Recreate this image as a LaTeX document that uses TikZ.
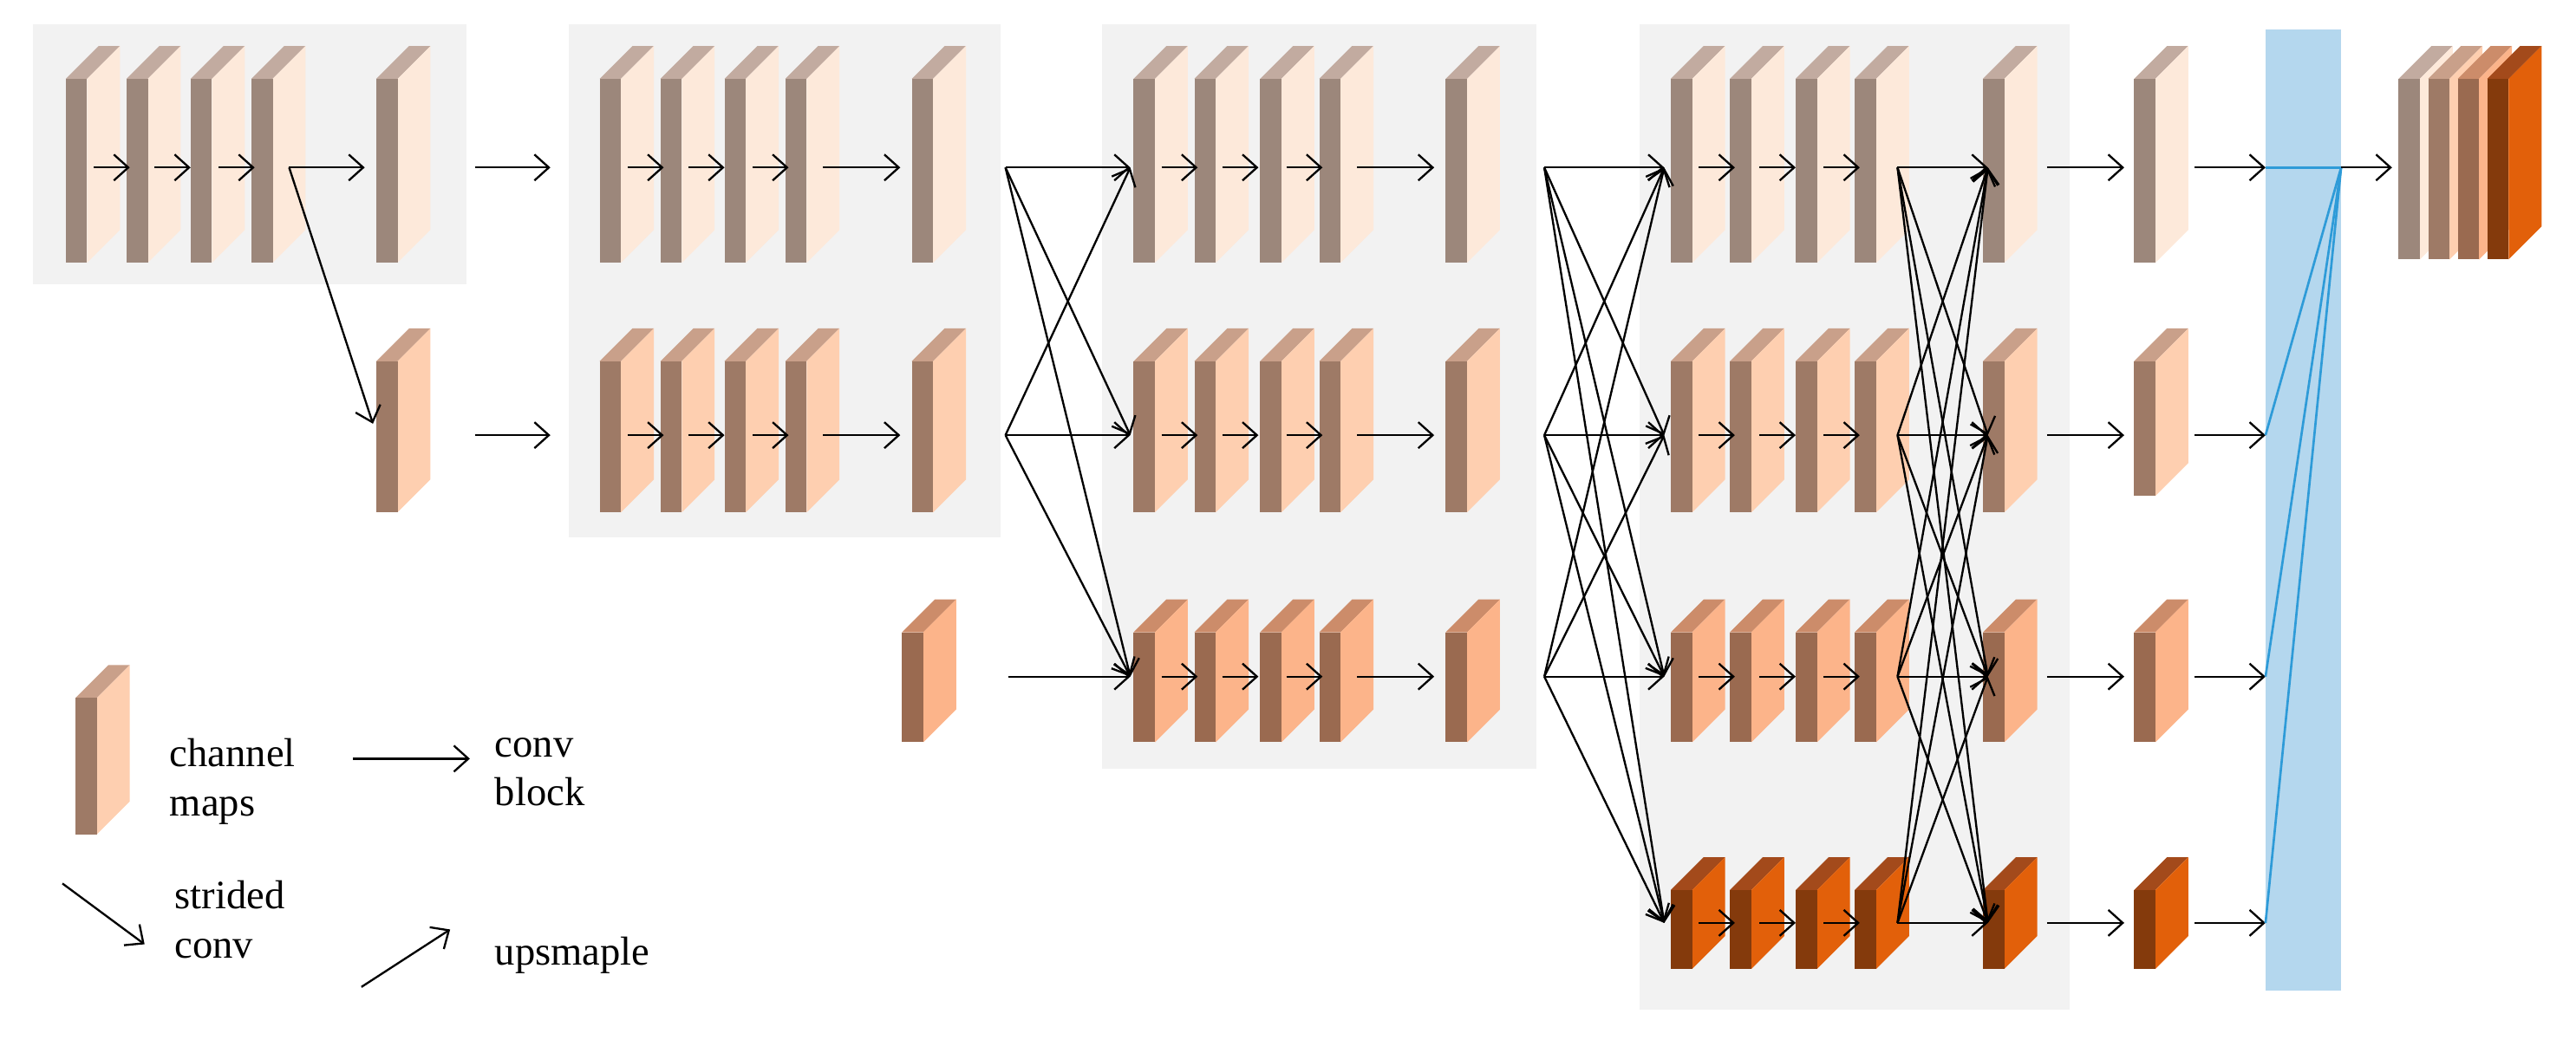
\documentclass[tikz,border=0pt]{standalone}
\usepackage{fontspec}
\setmainfont{Liberation Serif}
\usetikzlibrary{arrows.meta}
\definecolor{As}{HTML}{9C877B}\definecolor{Af}{HTML}{FDE9DA}\definecolor{At}{HTML}{C2ABA0}
\definecolor{Bs}{HTML}{9E7A66}\definecolor{Bf}{HTML}{FECFB0}\definecolor{Bt}{HTML}{C9A08A}
\definecolor{Cs}{HTML}{9A6A50}\definecolor{Cf}{HTML}{FCB48A}\definecolor{Ct}{HTML}{CC8C6A}
\definecolor{Ds}{HTML}{843A0C}\definecolor{Df}{HTML}{E2600A}\definecolor{Dt}{HTML}{A34A1B}
\definecolor{pgray}{HTML}{F2F2F2}\definecolor{bbar}{HTML}{B4D7EE}\definecolor{bline}{HTML}{2E9BD8}
\newcommand\plate[4]{%
  \fill[#4t] (#1,#2) -- (#1+20,#2-20) -- (#1+33,#2-20) -- (#1+13,#2) -- cycle;
  \fill[#4f] (#1+13,#2) -- (#1+33,#2-20) -- (#1+33,#3-20) -- (#1+13,#3) -- cycle;
  \fill[#4s] (#1,#2) rectangle (#1+13,#3);}
\begin{document}
\begin{tikzpicture}[x=0.02cm,y=-0.02cm,
  arr/.style={-{Straight Barb[length=5pt,width=9pt]},line width=0.7pt},
  bl/.style={draw=bline,line width=0.8pt},
  panel/.style={fill=pgray},
  lbl/.style={font=\fontsize{14}{17}\selectfont,align=left,anchor=west,inner sep=0}]
\useasboundingbox (0,0) rectangle (1568,633);
% panels
\fill[panel] (20,15) rectangle (284,173);
\fill[panel] (346,15) rectangle (609,327);
\fill[panel] (671,15) rectangle (935,468);
\fill[panel] (998,15) rectangle (1260,615);
\fill[bbar] (1379,18) rectangle (1425,603);
% row geometry: ytop, ybot, arrow y
\def\rAt{48}\def\rAb{160}\def\rAy{102}
\def\rBt{220}\def\rBb{312}\def\rBy{265}
\def\rCt{385}\def\rCb{452}\def\rCy{412}
\def\rDt{542}\def\rDb{590}\def\rDy{562}
% plates
\foreach \x in {40,77,116,153,229} {\plate{\x}{\rAt}{\rAb}{A}}
\plate{229}{\rBt}{\rBb}{B}
\foreach \x in {365,402,441,478,555} {\plate{\x}{\rAt}{\rAb}{A}\plate{\x}{\rBt}{\rBb}{B}}
\plate{549}{\rCt}{\rCb}{C}
\foreach \x in {690,727,767,803,880} {\plate{\x}{\rAt}{\rAb}{A}\plate{\x}{\rBt}{\rBb}{B}\plate{\x}{\rCt}{\rCb}{C}}
\foreach \x in {1017,1053,1093,1129,1207} {\plate{\x}{\rAt}{\rAb}{A}\plate{\x}{\rBt}{\rBb}{B}\plate{\x}{\rCt}{\rCb}{C}\plate{\x}{\rDt}{\rDb}{D}}
\plate{1299}{\rAt}{\rAb}{A}\plate{1299}{\rBt}{302}{B}\plate{1299}{\rCt}{\rCb}{C}\plate{1299}{\rDt}{\rDb}{D}
% final stack
\plate{1460}{\rAt}{158}{A}\plate{1478}{\rAt}{158}{B}\plate{1496}{\rAt}{158}{C}\plate{1514}{\rAt}{158}{D}
% in-block arrows
\foreach \px in {40,365,690,1017} {
  \foreach \d in {0,37,76} {
    \coordinate (s) at (\px+\d+17,\rAy); \coordinate (t) at (\px+\d+39,\rAy);
    \draw[arr] (s) -- (t);}}
\foreach \px in {365,690,1017} {
  \foreach \d in {0,37,76} {
    \coordinate (s) at (\px+\d+17,\rBy); \coordinate (t) at (\px+\d+39,\rBy);
    \draw[arr] (s) -- (t);}}
\foreach \px in {690,1017} {
  \foreach \d in {0,37,76} {
    \coordinate (s) at (\px+\d+17,\rCy); \coordinate (t) at (\px+\d+39,\rCy);
    \draw[arr] (s) -- (t);}}
\foreach \d in {0,37,76} {
  \coordinate (s) at (1017+\d+17,\rDy); \coordinate (t) at (1017+\d+39,\rDy);
  \draw[arr] (s) -- (t);}
% panel1 exits
\coordinate (p1s) at (176,\rAy); \coordinate (p1t) at (222,\rAy); \coordinate (p1d) at (227,258);
\draw[arr] (p1s) -- (p1t); \draw[arr] (p1s) -- (p1d);
\coordinate (a1) at (289,\rAy); \coordinate (a2) at (335,\rAy); \draw[arr] (a1) -- (a2);
\coordinate (b1) at (289,\rBy); \coordinate (b2) at (335,\rBy); \draw[arr] (b1) -- (b2);
% panel2 inner exits
\foreach \y in {\rAy,\rBy} {\coordinate (s) at (501,\y); \coordinate (t) at (548,\y); \draw[arr] (s) -- (t);}
% panel3 inner exits
\foreach \y in {\rAy,\rBy,\rCy} {\coordinate (s) at (826,\y); \coordinate (t) at (873,\y); \draw[arr] (s) -- (t);}
% exchange 2->3
\coordinate (u1) at (612,\rAy); \coordinate (u2) at (612,\rBy);
\coordinate (v1) at (688,\rAy); \coordinate (v2) at (688,\rBy); \coordinate (v3) at (688,\rCy);
\foreach \s in {u1,u2} \foreach \t in {v1,v2,v3} \draw[arr] (\s) -- (\t);
\coordinate (l3) at (614,\rCy); \draw[arr] (l3) -- (v3);
% exchange 3->4
\coordinate (w1) at (940,\rAy); \coordinate (w2) at (940,\rBy); \coordinate (w3) at (940,\rCy);
\coordinate (z1) at (1013,\rAy); \coordinate (z2) at (1013,\rBy); \coordinate (z3) at (1013,\rCy); \coordinate (z4) at (1013,\rDy);
\foreach \s in {w1,w2,w3} \foreach \t in {z1,z2,z3,z4} \draw[arr] (\s) -- (\t);
% exchange inside 4
\coordinate (q1) at (1155,\rAy); \coordinate (q2) at (1155,\rBy); \coordinate (q3) at (1155,\rCy); \coordinate (q4) at (1155,\rDy);
\coordinate (r1) at (1210,\rAy); \coordinate (r2) at (1210,\rBy); \coordinate (r3) at (1210,\rCy); \coordinate (r4) at (1210,\rDy);
\foreach \s in {q1,q2,q3,q4} \foreach \t in {r1,r2,r3,r4} \draw[arr] (\s) -- (\t);
% outputs
\foreach \y [count=\i] in {\rAy,\rBy,\rCy,\rDy} {
  \coordinate (o\i) at (1246,\y); \coordinate (oo\i) at (1293,\y); \draw[arr] (o\i) -- (oo\i);
  \coordinate (h\i) at (1336,\y); \coordinate (hb\i) at (1379,\y); \draw[arr] (h\i) -- (hb\i);}
\coordinate (bc) at (1425,\rAy);
\foreach \i in {1,2,3,4} \draw[bl] (hb\i) -- (bc);
\coordinate (fin) at (1456,\rAy); \draw[arr] (bc) -- (fin);
% legend
\plate{46}{425}{508}{B}
\node[lbl] (lt1) at (103,476) {channel\\maps};
\coordinate (lg1) at (215,462); \coordinate (lg2) at (286,462); \draw[arr] (lg1) -- (lg2);
\node[lbl] (lt2) at (301,470) {conv\\block};
\coordinate (lg3) at (38,538); \coordinate (lg4) at (88,575); \draw[arr] (lg3) -- (lg4);
\node[lbl] (lt3) at (106,560) {strided\\conv};
\coordinate (lg5) at (220,601); \coordinate (lg6) at (274,566); \draw[arr] (lg5) -- (lg6);
\node[lbl] (lt4) at (301,582) {upsmaple};
\end{tikzpicture}
\end{document}
